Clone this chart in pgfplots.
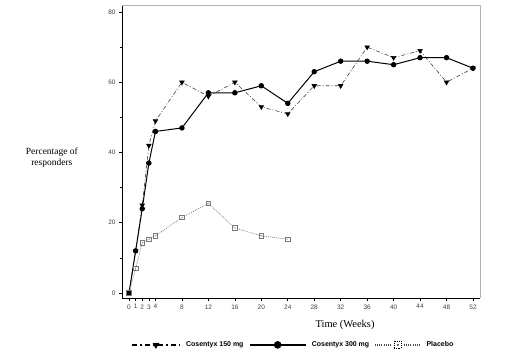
\documentclass[border=0pt]{standalone}
\usepackage{pgfplots}
\pgfplotsset{compat=1.18}
\usepackage{fontspec}
\setmainfont{Liberation Serif}
\setsansfont{Liberation Sans}
\pgfdeclareplotmark{sqdot}{%
  \pgfpathrectangle{\pgfqpoint{-\pgfplotmarksize}{-\pgfplotmarksize}}{\pgfqpoint{2\pgfplotmarksize}{2\pgfplotmarksize}}%
  \pgfusepathqstroke
  \pgfpathcircle{\pgfpointorigin}{0.45pt}\pgfusepathqfill}
\definecolor{dgray}{HTML}{404040}
\definecolor{pgray}{HTML}{7A7A7A}
\begin{document}
\begin{tikzpicture}[x=1bp,y=1bp]
\path[use as bounding box] (0,0) rectangle (527,359);
\begin{axis}[
  at={(122bp,61bp)}, anchor=south west,
  scale only axis, width=358bp, height=293bp,
  xmin=-1.06, xmax=53.06, ymin=-1.42, ymax=82,
  axis lines*=left,
  axis line style={black, line width=0.8pt},
  tick align=outside, tick style={black, line width=0.6pt},
  major tick length=3bp, minor tick length=2.5bp,
  xtick={0,1,2,3,4,8,12,16,20,24,28,32,36,40,44,48,52},
  ytick={0,20,40,60,80}, minor ytick={10,30,50,70},
  ticklabel style={font=\sffamily\fontsize{6.5}{7}\selectfont, text=black!75},
  /pgf/number format/assume math mode=true,
  xlabel={Time (Weeks)},
  xlabel style={at={(axis description cs:0.623,-0.092)}, anchor=center, font=\fontsize{10.5}{12}\selectfont},
  ylabel={Percentage of\\responders},
  ylabel style={rotate=-90, at={(axis description cs:-0.196,0.478)}, anchor=center, align=center, font=\fontsize{9.5}{11}\selectfont},
  legend columns=3,
  legend style={at={(axis description cs:0.478,-0.160)}, anchor=center, draw=none, fill=none,
    font=\sffamily\bfseries\fontsize{7}{8}\selectfont, column sep=3bp, inner sep=0pt},
  legend cell align=left,
  clip=false,
]
\draw[gray!60, line width=0.8pt] (rel axis cs:0,1) -- (rel axis cs:1,1) -- (rel axis cs:1,0);
\addplot[dgray, line width=0.6pt, dash pattern=on 4pt off 2pt on 1pt off 2pt,
  mark=triangle*, mark size=2.6pt, mark options={black, solid, rotate=180},
  legend image code/.code={\draw[black, line width=2.2pt, dash pattern=on 5pt off 3pt on 2pt off 3pt] (0bp,0bp) -- (48bp,0bp);
    \draw[black, fill=black] plot[mark=triangle*, mark size=3.6pt, mark options={rotate=180}] coordinates {(24bp,0bp)};}]
  coordinates {(0,0)(1,12)(2,25)(3,42)(4,49)(8,60)(12,56)(16,60)(20,53)(24,51)(28,59)(32,59)(36,70)(40,67)(44,69)(48,60)(52,64)};
\addlegendentry{Cosentyx 150 mg}
\addplot[black, line width=1pt, mark=*, mark size=2.2pt,
  legend image code/.code={\draw[black, line width=2.4pt] (0bp,0bp) -- (56bp,0bp);
    \fill[black] (28bp,0bp) circle (3.3pt);}]
  coordinates {(0,0)(1,12)(2,24)(3,37)(4,46)(8,47)(12,57)(16,57)(20,59)(24,54)(28,63)(32,66)(36,66)(40,65)(44,67)(48,67)(52,64)};
\addlegendentry{Cosentyx 300 mg}
\addplot[pgray, line width=0.6pt, dash pattern=on 1pt off 1pt,
  mark=sqdot, mark size=2.3pt, mark options={pgray, solid, line width=0.6pt, fill=pgray},
  legend image code/.code={\draw[black!70, line width=1.4pt, dash pattern=on 1pt off 1.2pt] (0bp,0bp) -- (17bp,0bp) (29bp,0bp) -- (46bp,0bp);
    \draw[black, line width=0.8pt] (19.5bp,-3.5bp) rectangle (26.5bp,3.5bp); \fill[black] (23bp,0bp) circle (0.6pt);}]
  coordinates {(0,0)(1,7)(2,14.3)(3,15.3)(4,16.3)(8,21.5)(12,25.5)(16,18.5)(20,16.3)(24,15.3)};
\addlegendentry{Placebo}
\end{axis}
\end{tikzpicture}
\end{document}
